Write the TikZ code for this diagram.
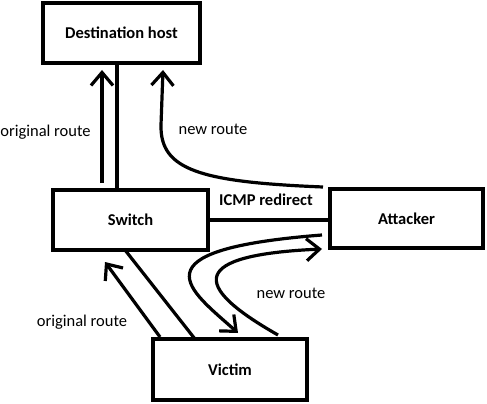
\documentclass[tikz,border=0pt]{standalone}
\usepackage{fontspec}
\setmainfont{Carlito}
\usetikzlibrary{arrows.meta,calc}
\begin{document}
\begin{tikzpicture}[x=1pt,y=-1pt,
  box/.style={draw, line width=3.6pt, rectangle, inner sep=0pt, outer sep=0pt, font=\fontsize{16.5}{18}\selectfont\bfseries},
  lbl/.style={font=\fontsize{16.5}{18}\selectfont, inner sep=0pt},
  blbl/.style={font=\fontsize{16.5}{18}\selectfont\bfseries, inner sep=0pt},
  conn/.style={line width=3.2pt},
  arr/.style={line width=3.2pt, -{Straight Barb[length=13pt,width=22pt,line width=3.2pt]}},
]
\useasboundingbox[fill=white] (0,0) rectangle (487,404);
\node[box, minimum width=157pt, minimum height=60pt] (dest) at (121.5,33) {Destination host};
\node[box, minimum width=155pt, minimum height=60pt] (switch) at (130.5,220) {Switch};
\node[box, minimum width=153pt, minimum height=59pt] (attacker) at (406.5,218.5) {Attacker};
\node[box, minimum width=154pt, minimum height=61pt] (victim) at (230,369.5) {Victim};
\coordinate (vx) at (117,0);
\draw[conn] (dest.south -| vx) -- (switch.north -| vx);
\draw[conn] (switch.east) -- (switch.east -| attacker.west);
\draw[conn] ($(switch.south)+(-5.5,0)$) -- ($(victim.north)+(-35,0)$);
\draw[arr] ($(switch.north)+(-28.5,-7)$) -- ($(dest.south)+(-19.5,7)$);
\draw[arr] ($(attacker.north west)+(-7,-2)$) .. controls (200,182) and (160,170) .. (161,125) -- ($(dest.south)+(41.5,7)$);
\draw[arr] ($(victim.north)+(-70,-2)$) -- ($(switch.south)+(-25.5,12)$);
\draw[arr] ($(attacker.west)+(-8,16.5)$) .. controls (130,250) and (190,290) .. ($(victim.north)+(8,-6)$);
\draw[arr] ($(victim.north)+(48,-4)$) .. controls (190,285) and (190,255) .. ($(attacker.south west)+(-8,1)$);
\node[lbl] (l1) at (45.5,132) {original route};
\node[lbl] (l2) at (213,129) {new route};
\node[blbl] (l3) at (266,200) {ICMP redirect};
\node[lbl] (l4) at (82,322) {original route};
\node[lbl] (l5) at (291,293) {new route};
\end{tikzpicture}
\end{document}
